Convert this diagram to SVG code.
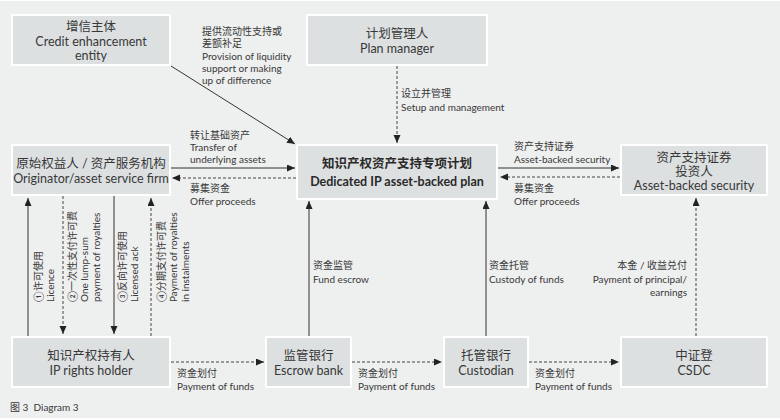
<svg xmlns="http://www.w3.org/2000/svg" width="780" height="420" viewBox="0 0 780 420">
<style>
text{font-family:Lato,"Noto Sans CJK SC",sans-serif;fill:#383838}
.n{font-size:12.5px;text-anchor:middle}
.b{font-weight:bold;fill:#2a2a2a}
.l{font-size:10px}
.box{fill:#dde0e1;stroke:#fff;stroke-width:2}
.s{stroke:#333;stroke-width:1;fill:none}
.d{stroke:#444;stroke-width:1;fill:none;stroke-dasharray:3 2}
</style>
<defs>
<marker id="a" markerUnits="userSpaceOnUse" markerWidth="9" markerHeight="8" refX="8" refY="3.5" orient="auto"><path d="M0,0 L8,3.5 L0,7 z" fill="#222"/></marker>
</defs>
<rect width="780" height="420" fill="#fff"/>
<rect x="0" y="1" width="780" height="417" fill="#eeefef"/>
<g id="credit"><rect class="box" x="12" y="15" width="158" height="50"/><text class="n" x="91" y="31">增信主体</text><text class="n" x="91" y="46">Credit enhancement</text><text class="n" x="91" y="60">entity</text></g>
<g id="manager"><rect class="box" x="307" y="15" width="180" height="50"/><text class="n" x="397" y="38">计划管理人</text><text class="n" x="397" y="53">Plan manager</text></g>
<g id="originator"><rect class="box" x="12" y="145" width="158" height="50"/><text class="n" x="91" y="168">原始权益人 / 资产服务机构</text><text class="n" x="91" y="183">Originator/asset service firm</text></g>
<g id="plan"><rect class="box" x="297" y="145" width="200" height="54"/><text class="n b" x="397" y="168">知识产权资产支持专项计划</text><text class="n b" x="397" y="186">Dedicated IP asset-backed plan</text></g>
<g id="investor"><rect class="box" x="621" y="145" width="146" height="50"/><text class="n" x="694" y="162">资产支持证券</text><text class="n" x="694" y="176">投资人</text><text class="n" x="694" y="190">Asset-backed security</text></g>
<g id="holder"><rect class="box" x="12" y="337" width="158" height="50"/><text class="n" x="91" y="360">知识产权持有人</text><text class="n" x="91" y="375">IP rights holder</text></g>
<g id="escrow"><rect class="box" x="266" y="337" width="85" height="50"/><text class="n" x="308.5" y="360">监管银行</text><text class="n" x="308.5" y="375">Escrow bank</text></g>
<g id="custodian"><rect class="box" x="444" y="337" width="84" height="50"/><text class="n" x="486" y="360">托管银行</text><text class="n" x="486" y="375">Custodian</text></g>
<g id="csdc"><rect class="box" x="621" y="337" width="146" height="50"/><text class="n" x="694" y="360">中证登</text><text class="n" x="694" y="375">CSDC</text></g>
<g id="connectors">
<line class="s" x1="171" y1="66" x2="295" y2="144" marker-end="url(#a)"/>
<line class="d" x1="397" y1="66" x2="397" y2="143" marker-end="url(#a)"/>
<line class="s" x1="171" y1="168" x2="295" y2="168" marker-end="url(#a)"/>
<line class="d" x1="296" y1="178" x2="172" y2="178" marker-end="url(#a)"/>
<line class="s" x1="498" y1="168" x2="619" y2="168" marker-end="url(#a)"/>
<line class="d" x1="620" y1="177" x2="500" y2="177" marker-end="url(#a)"/>
<line class="s" x1="28" y1="336" x2="28" y2="198" marker-end="url(#a)"/>
<line class="d" x1="63" y1="196" x2="63" y2="334" marker-end="url(#a)"/>
<line class="s" x1="114" y1="196" x2="114" y2="334" marker-end="url(#a)"/>
<line class="d" x1="151" y1="336" x2="151" y2="198" marker-end="url(#a)"/>
<line class="d" x1="171" y1="362" x2="264" y2="362" marker-end="url(#a)"/>
<line class="d" x1="352" y1="362" x2="442" y2="362" marker-end="url(#a)"/>
<line class="d" x1="529" y1="362" x2="619" y2="362" marker-end="url(#a)"/>
<line class="s" x1="309" y1="336" x2="309" y2="201" marker-end="url(#a)"/>
<line class="s" x1="486" y1="336" x2="486" y2="201" marker-end="url(#a)"/>
<line class="d" x1="696" y1="336" x2="696" y2="198" marker-end="url(#a)"/>
</g>
<g id="labels">
<text class="l" x="202" y="35">提供流动性支持或</text>
<text class="l" x="202" y="47">差额补足</text>
<text class="l" x="202" y="60">Provision of liquidity</text>
<text class="l" x="202" y="72">support or making</text>
<text class="l" x="202" y="84">up of difference</text>
<text class="l" x="401" y="97">设立并管理</text>
<text class="l" x="401" y="111">Setup and management</text>
<text class="l" x="190" y="139">转让基础资产</text>
<text class="l" x="190" y="151">Transfer of</text>
<text class="l" x="190" y="163">underlying assets</text>
<text class="l" x="190" y="192">募集资金</text>
<text class="l" x="190" y="205">Offer proceeds</text>
<text class="l" x="514" y="150">资产支持证券</text>
<text class="l" x="514" y="163">Asset-backed security</text>
<text class="l" x="514" y="192">募集资金</text>
<text class="l" x="514" y="205">Offer proceeds</text>
<text class="l" transform="translate(42,302) rotate(-90)">①许可使用</text>
<text class="l" transform="translate(54,302) rotate(-90)">Licence</text>
<text class="l" transform="translate(76,302) rotate(-90)">②一次性支付许可费</text>
<text class="l" transform="translate(88,302) rotate(-90)">One lump-sum</text>
<text class="l" transform="translate(100,302) rotate(-90)">payment of royalties</text>
<text class="l" transform="translate(126,302) rotate(-90)">③反向许可使用</text>
<text class="l" transform="translate(138,302) rotate(-90)">Licensed ack</text>
<text class="l" transform="translate(165,302) rotate(-90)">④分期支付许可费</text>
<text class="l" transform="translate(177,302) rotate(-90)">Payment of royalties</text>
<text class="l" transform="translate(189,302) rotate(-90)">in instalments</text>
<text class="l" x="313" y="269">资金监管</text>
<text class="l" x="313" y="283">Fund escrow</text>
<text class="l" x="489" y="269">资金托管</text>
<text class="l" x="489" y="283">Custody of funds</text>
<text class="l" x="687" y="269" text-anchor="end">本金 / 收益兑付</text>
<text class="l" x="687" y="283" text-anchor="end">Payment of principal/</text>
<text class="l" x="687" y="296" text-anchor="end">earnings</text>
<text class="l" x="177" y="377">资金划付</text>
<text class="l" x="177" y="390">Payment of funds</text>
<text class="l" x="358" y="377">资金划付</text>
<text class="l" x="358" y="390">Payment of funds</text>
<text class="l" x="535" y="377">资金划付</text>
<text class="l" x="535" y="390">Payment of funds</text>
<text class="l" x="10" y="411">图 3&#160; Diagram 3</text>
</g>
</svg>
